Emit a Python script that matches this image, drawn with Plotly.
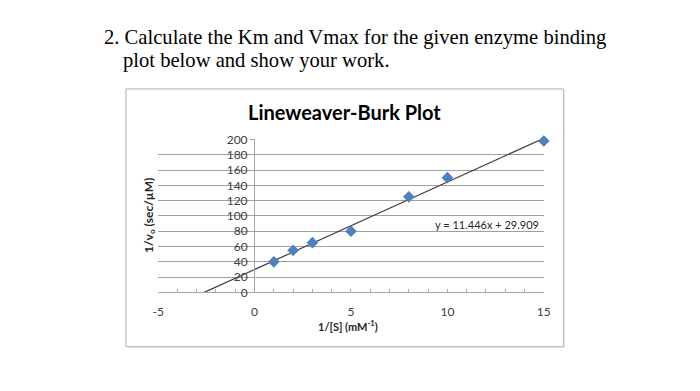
import plotly.graph_objects as go

# Data
inv_s = [1, 2, 3, 5, 8, 10, 15]            # 1/[S] (mM^-1)
inv_v = [40, 55, 65, 80, 125, 150, 198]    # 1/vo (sec/uM)
SLOPE = 11.446
INTERCEPT = 29.909
x_ticks = [-5, 0, 5, 10, 15]
y_ticks = [0, 20, 40, 60, 80, 100, 120, 140, 160, 180, 200]

W, H = 700, 391
def px(x):
    return x / W
def py(y):
    return 1 - y / H

x_start = -INTERCEPT / SLOPE
x_end = max(inv_s)
trend_x = [x_start, x_end]
trend_y = [SLOPE * x + INTERCEPT for x in trend_x]

fig = go.Figure()
fig.add_trace(go.Scatter(x=trend_x, y=trend_y, mode="lines",
                         line=dict(color="#404040", width=1.2),
                         hoverinfo="skip", showlegend=False, cliponaxis=False))
fig.add_trace(go.Scatter(x=inv_s, y=inv_v, mode="markers",
                         marker=dict(symbol="diamond", size=9, color="#4F81BD"),
                         showlegend=False, cliponaxis=False))

tick_font = dict(family="Lato, Open Sans, sans-serif", size=12, color="#404040")

fig.update_layout(
    width=W, height=H,
    margin=dict(l=0, r=0, t=0, b=0),
    paper_bgcolor="white", plot_bgcolor="white",
    xaxis=dict(
        domain=[px(155), px(548)], range=[-5, 15],
        tickvals=x_ticks, ticktext=[str(v) for v in x_ticks],
        showgrid=False, zeroline=False,
        showline=True, linecolor="#A6A6A6", linewidth=1,
        ticks="inside", ticklen=3, tickcolor="#A6A6A6",
        minor=dict(dtick=1, ticks="inside", ticklen=3, tickcolor="#A6A6A6"),
        ticklabelstandoff=8,
        tickfont=tick_font,
        anchor="y",
    ),
    yaxis=dict(
        domain=[py(295.7), py(136.7)], range=[0, 200],
        tickvals=y_ticks, ticktext=[str(v) for v in y_ticks],
        showgrid=True, gridcolor="#A0A0A0", gridwidth=1,
        zeroline=False,
        showline=True, linecolor="#A6A6A6", linewidth=1,
        ticks="outside", ticklen=4, tickcolor="#A6A6A6",
        tickfont=tick_font,
        anchor="free", position=px(252.7),
    ),
    shapes=[
        dict(type="rect", xref="paper", yref="paper",
             x0=px(123), x1=px(569), y0=py(353), y1=py(85),
             line=dict(color="#E0E0E0", width=1), layer="below"),
        dict(type="rect", xref="paper", yref="paper",
             x0=px(122), x1=px(568), y0=py(352), y1=py(84),
             line=dict(color="#C0C0C0", width=1), layer="below"),
    ],
    annotations=[
        dict(text="2. Calculate the Km and Vmax for the given enzyme binding",
             xref="paper", yref="paper", x=px(98), y=py(31),
             xanchor="left", yanchor="middle", showarrow=False,
             font=dict(family="Liberation Serif, serif", size=20.6, color="black")),
        dict(text="plot below and show your work.",
             xref="paper", yref="paper", x=px(117), y=py(55),
             xanchor="left", yanchor="middle", showarrow=False,
             font=dict(family="Liberation Serif, serif", size=20.6, color="black")),
        dict(text="<b>Lineweaver-Burk Plot</b>",
             xref="paper", yref="paper", x=px(345), y=py(108),
             xanchor="center", yanchor="middle", showarrow=False,
             font=dict(family="Lato, sans-serif", size=20, color="black")),
        dict(text="<b>1/[S] (mM<sup>-1</sup>)</b>",
             xref="paper", yref="paper", x=px(348), y=py(330),
             xanchor="center", yanchor="middle", showarrow=False,
             font=dict(family="Lato, sans-serif", size=11, color="#262626")),
        dict(text="<b>1/v<sub>o</sub> (sec/µM)</b>",
             xref="paper", yref="paper", x=px(146), y=py(216),
             xanchor="center", yanchor="middle", showarrow=False, textangle=-90,
             font=dict(family="Lato, sans-serif", size=12, color="#262626")),
        dict(text="y = 11.446x + 29.909",
             xref="paper", yref="paper", x=px(490), y=py(225),
             xanchor="center", yanchor="middle", showarrow=False,
             font=dict(family="Lato, sans-serif", size=11, color="#262626")),
    ],
)

fig.write_html("out.html")
